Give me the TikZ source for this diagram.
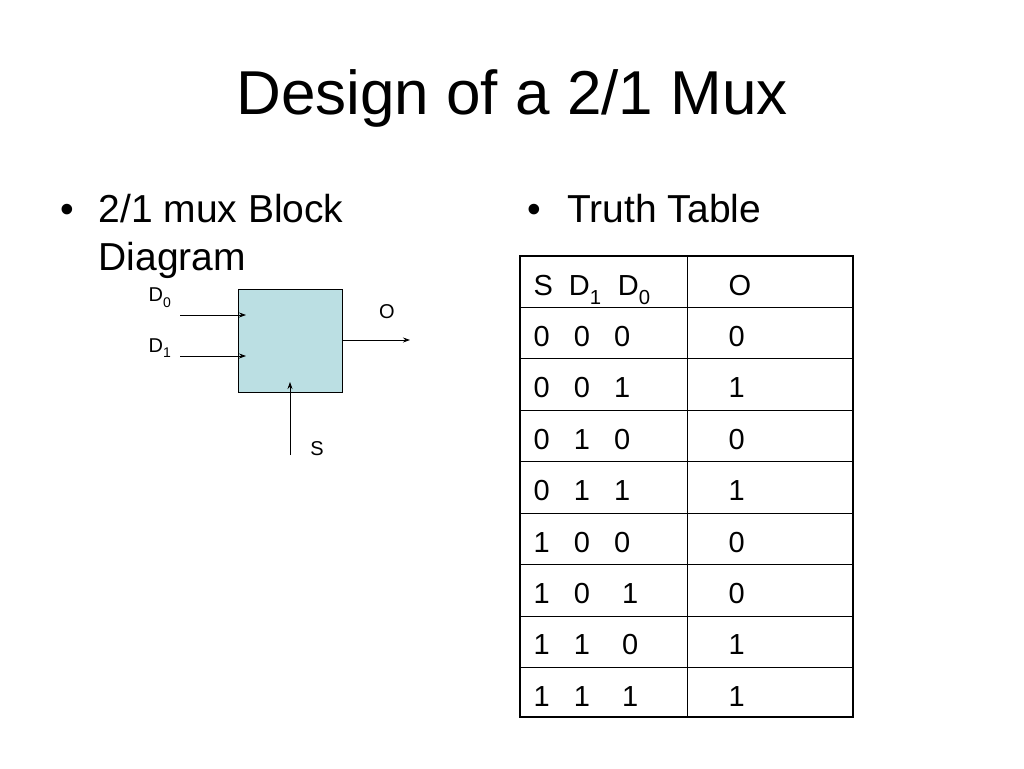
\documentclass[tikz,border=0pt]{standalone}
\usepackage{fontspec}
\setmainfont{Liberation Sans}
\usetikzlibrary{arrows.meta}
\newcommand{\fs}[1]{\fontsize{#1}{#1}\selectfont}
\newcommand{\sub}[1]{\raisebox{-0.25ex}{\textsubscript{#1}}}
\begin{document}
\begin{tikzpicture}[x=1pt,y=-1pt,
  arr/.style={-{Stealth[length=7pt,width=5pt]},line width=0.8pt},
  cell/.style={anchor=base west,font=\fs{29}},
  lbl/.style={font=\fs{20}}]
\useasboundingbox (0,0) rectangle (1024,768);
\node[font=\fs{62}] (title) at (512,98) {Design of a 2/1 Mux};
\node[anchor=base west,font=\fs{39}] (bu1) at (57,222) {\textbullet};
\node[anchor=base west,font=\fs{39}] (b1) at (95,222) {2/1 mux Block};
\node[anchor=base west,font=\fs{39}] (b1b) at (95,270) {Diagram};
\node[anchor=base west,font=\fs{39}] (bu2) at (524,222) {\textbullet};
\node[anchor=base west,font=\fs{39}] (b2) at (564,222) {Truth Table};
% block
\node[draw,fill={rgb,255:red,187;green,223;blue,227},minimum width=104pt,minimum height=103pt,inner sep=0pt,line width=0.6pt] (mux) at (290,340.5) {};
\coordinate (d0s) at (180,315); \coordinate (d0e) at (246,315);
\coordinate (d1s) at (180,356); \coordinate (d1e) at (246,356);
\coordinate (os) at (342,340); \coordinate (oe) at (410,340);
\coordinate (ss) at (290,455); \coordinate (se) at (290,382);
\draw[arr] (d0s) -- (d0e);
\draw[arr] (d1s) -- (d1e);
\draw[arr] (os) -- (oe);
\draw[arr] (ss) -- (se);
\node[lbl] (l0) at (160,298) {D\sub{0}};
\node[lbl] (l1) at (160,348) {D\sub{1}};
\node[lbl] (lo) at (387,312) {O};
\node[lbl] (ls) at (317,449) {S};
% table
\foreach \y in {307,358,410,461,513,564,616,667} \draw[line width=0.8pt] (520,\y) -- (853,\y);
\draw[line width=0.8pt] (687,256) -- (687,717);
\draw[line width=2pt] (520,256) rectangle (853,717);
\node[cell] (h1) at (530,295) {S\ \ D\sub{1}\ \ D\sub{0}};
\node[cell] (h2) at (725,295) {O};
\foreach \a/\b/\c/\o [count=\i] in {0/0/0/0,0/0/1/1,0/1/0/0,0/1/1/1,1/0/0/0,1/0/\ 1/0,1/1/\ 0/1,1/1/\ 1/1}{
  \node[cell] (r\i) at (530,295+51.4*\i) {\a\ \ \ \b\ \ \ \c};
  \node[cell] (o\i) at (725,295+51.4*\i) {\o};
}
\end{tikzpicture}
\end{document}
